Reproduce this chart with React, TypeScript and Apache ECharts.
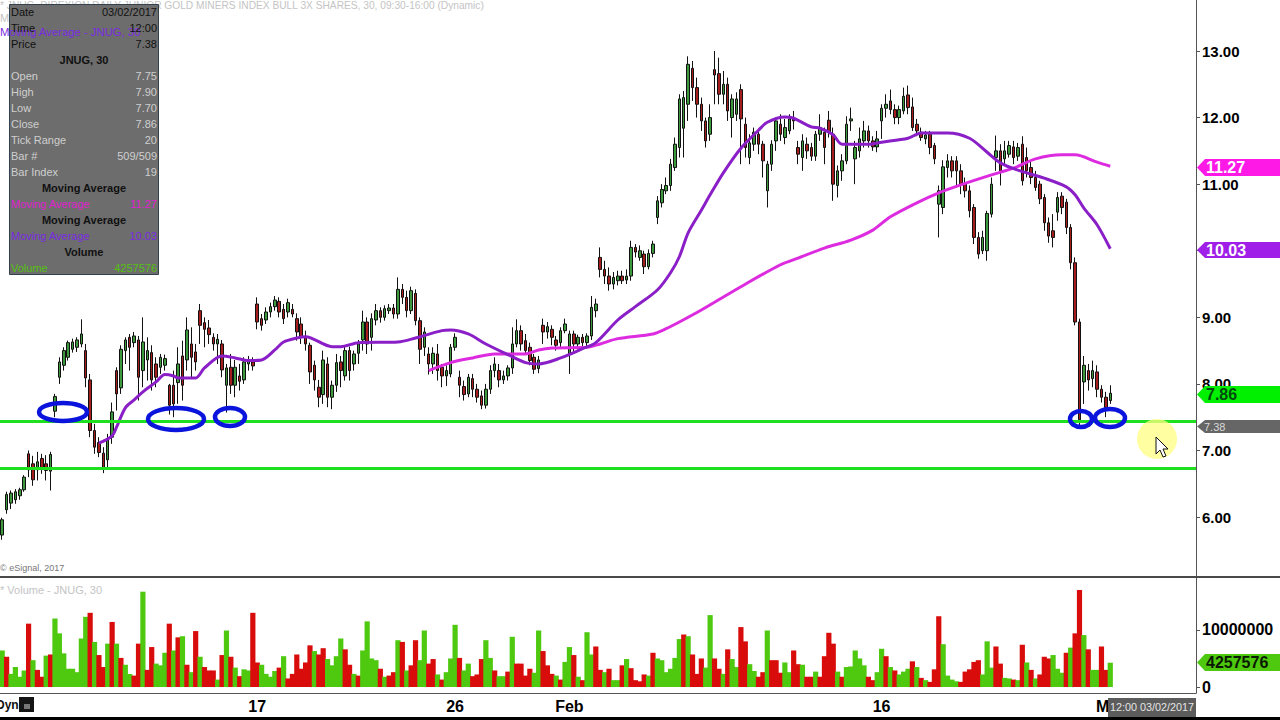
/**
 * JNUG 30 min chart: candles, two moving averages, volume pane.
 * One slot is roughly 4.4px wide, the picture shows two source bars per slot.
 */
import { useEffect, useRef } from 'react'
import * as echarts from 'echarts'

const FONT = '"Liberation Sans", Arial, sans-serif'
const SLOTS = 272

const xTicks: Record<number, string> = { 58: '17', 103: '26', 129: 'Feb', 200: '16', 252: 'Mar' }
const priceTicks = [6, 7, 8, 9, 10, 11, 12, 13]
const volumeTicks = [0, 10000000]
const supportLines = [7.44, 6.74]

const opens = [
  5.73,6.11,6.21,6.26,6.32,6.41,6.95,6.8,6.71,6.88,6.8,6.69,
  7.59,8.1,8.28,8.4,8.52,8.55,8.6,8.5,8.06,7.3,7.12,6.96,6.86,
  7.2,8.2,7.94,8.5,8.7,8.62,8.66,8.2,8.36,8.47,8.3,8.25,8.28,
  7.98,7.98,8.02,8.42,8.36,8.6,8.48,
  9.1,8.92,8.84,8.7,8.6,8.6,7.98,8.25,7.98,8.12,8.06,8.3,8.33,
  9.2,8.98,8.96,9.08,9.16,9.24,9.12,9.08,9.12,8.98,8.9,8.7,8.58,8.28,7.95,
  7.84,8.3,7.8,7.98,8.33,8.12,8.5,8.3,8.46,8.66,8.93,8.7,8.96,9.1,9.0,9.1,9.14,9.05,9.42,9.3,9.1,9.36,8.95,8.55,
  8.45,8.3,8.45,8.25,8.12,8.15,8.55,
  8.1,7.96,7.85,8.08,7.92,7.82,7.68,7.92,8.2,8.2,8.06,8.12,8.24,8.6,8.8,8.65,8.55,8.4,8.23,
  8.88,8.78,8.82,8.66,8.62,8.8,8.44,8.75,8.6,8.7,8.62,8.72,9.1,
  9.9,9.72,9.62,9.5,9.55,9.62,9.56,9.62,10.05,9.9,9.95,9.76,9.96,
  10.5,10.72,10.9,10.98,11.25,11.55,11.84,12.2,12.74,12.45,12.2,11.95,11.75,
  12.72,12.66,12.35,12.5,12.0,12.05,12.42,11.9,11.4,11.6,11.75,11.6,10.9,11.3,11.65,11.9,11.7,11.8,12.0,
  11.55,11.4,11.6,11.55,11.42,11.75,11.78,11.96,11.75,10.98,11.2,11.35,11.95,
  11.38,11.5,11.65,11.8,11.65,11.56,
  11.95,12.14,12.25,12.12,12.0,12.1,12.34,12.16,11.9,11.78,11.68,11.75,11.58,
  10.7,10.65,11.25,11.35,11.35,11.2,11.0,10.9,10.65,10.2,10.0,10.0,10.55,
  11.4,11.5,11.38,11.45,11.56,11.42,11.6,11.4,11.25,11.1,11.0,10.8,10.42,10.3,
  10.58,10.82,10.73,10.35,9.82,8.93,8.03,8.2,8.08,8.18,7.92,7.8,7.75,
]
const closes = [
  5.96,6.34,6.36,6.38,6.41,6.6,6.71,6.56,6.83,6.74,6.7,6.94,
  7.81,8.33,8.5,8.62,8.63,8.66,8.75,8.09,7.3,7.05,6.97,6.74,7.16,
  7.58,7.85,8.52,8.66,8.55,8.72,8.1,8.63,8.5,8.06,8.1,8.4,8.38,
  7.68,7.7,8.3,7.98,8.81,8.4,8.33,
  8.88,8.82,8.74,8.6,8.67,8.21,8.24,7.98,8.25,8.04,8.33,8.36,8.27,
  8.93,8.88,9.08,9.16,9.26,9.08,8.98,9.22,9.05,8.78,8.7,8.6,8.18,8.06,7.8,
  8.36,7.8,7.98,8.32,8.2,8.5,8.2,8.45,8.6,8.93,8.6,8.98,9.1,9.0,9.13,9.14,9.05,9.42,9.3,9.1,9.4,8.95,8.52,8.78,
  8.3,8.46,8.2,8.12,8.2,8.55,8.7,
  7.98,7.84,8.1,7.92,7.8,7.68,7.92,8.2,8.3,8.06,8.12,8.24,8.6,8.8,8.6,8.5,8.35,8.22,8.36,
  8.78,8.86,8.7,8.58,8.8,8.9,8.75,8.6,8.7,8.62,8.72,9.15,9.2,
  9.72,9.62,9.5,9.6,9.62,9.55,9.62,10.05,9.98,10.0,9.76,9.96,10.1,
  10.75,10.92,10.98,11.3,11.6,12.28,12.3,12.8,12.45,12.2,11.95,11.65,12.0,
  12.64,12.35,12.5,12.1,12.28,12.28,11.98,11.55,11.62,11.78,11.6,11.35,11.3,11.6,11.95,11.75,11.85,11.98,11.95,
  11.45,11.65,11.5,11.42,11.75,11.85,11.55,11.78,11.0,11.2,11.35,11.9,11.98,
  11.55,11.68,11.8,11.65,11.56,11.68,
  12.14,12.2,12.12,12.0,12.12,12.32,12.15,11.85,11.8,11.7,11.74,11.55,11.38,
  10.9,11.26,11.35,11.2,11.2,11.0,10.9,10.6,10.2,9.95,10.2,10.56,11.0,
  11.5,11.2,11.5,11.58,11.4,11.55,11.05,11.2,11.1,10.95,10.78,10.42,10.22,10.2,
  10.8,10.65,10.35,9.82,8.93,7.46,8.28,8.06,8.2,7.92,7.8,7.64,7.86,
]
const lows = [
  5.66,6.05,6.12,6.2,6.26,6.38,6.6,6.47,6.55,6.65,6.55,6.4,
  7.5,8.0,8.2,8.35,8.47,8.48,8.55,7.95,7.2,6.95,6.9,6.66,6.72,
  7.1,7.6,7.85,8.3,8.2,8.55,7.75,7.95,8.05,7.9,7.95,8.15,8.2,
  7.54,7.5,7.7,7.75,8.2,8.1,8.2,
  8.6,8.55,8.6,8.5,8.3,8.1,7.57,7.85,7.8,7.9,8.0,8.2,8.2,
  8.82,8.8,8.9,9.0,9.1,9.0,8.9,9.0,9.0,8.65,8.6,8.5,8.0,7.9,7.65,
  7.7,7.65,7.62,7.88,7.95,8.05,8.05,8.2,8.3,8.5,8.45,8.5,8.88,8.92,8.95,9.05,8.98,8.98,9.2,9.0,9.05,8.88,8.3,8.42,
  8.14,8.15,8.05,7.95,7.97,8.1,8.5,
  7.8,7.75,7.8,7.8,7.72,7.62,7.63,7.85,8.1,7.95,8.0,8.05,8.15,8.55,8.5,8.45,8.28,8.15,8.16,
  8.6,8.68,8.58,8.5,8.55,8.76,8.15,8.46,8.52,8.55,8.56,8.66,9.0,
  9.6,9.5,9.4,9.42,9.48,9.5,9.5,9.55,9.9,9.85,9.65,9.72,9.9,
  10.4,10.65,10.85,10.9,11.2,11.4,11.4,11.95,12.25,12.0,11.8,11.55,11.65,
  12.2,12.2,12.2,11.95,11.7,11.95,11.3,11.4,11.3,11.5,11.45,11.1,10.65,11.2,11.5,11.65,11.6,11.75,11.82,
  11.3,11.2,11.38,11.35,11.35,11.65,11.3,11.7,10.75,10.8,11.05,11.3,11.8,
  11.0,11.4,11.55,11.55,11.5,11.48,
  11.68,12.0,12.05,11.9,11.9,12.05,12.05,11.8,11.72,11.65,11.6,11.45,11.3,
  10.2,10.55,11.1,11.1,10.95,10.85,10.8,10.5,10.1,9.88,9.95,9.85,10.5,
  11.2,10.98,11.28,11.4,11.3,11.35,10.98,11.1,11.0,10.9,10.7,10.3,10.12,10.05,
  10.45,10.55,10.25,9.72,8.88,7.38,7.7,7.9,7.95,7.8,7.72,7.5,7.7,
]
const highs = [
  5.99,6.38,6.4,6.42,6.44,6.63,7.0,6.92,6.98,6.95,6.93,6.98,
  7.85,8.4,8.55,8.65,8.68,8.7,8.97,8.6,8.15,7.4,7.2,7.05,7.25,
  7.72,8.25,8.58,8.7,8.75,8.78,8.72,9.0,8.7,8.58,8.4,8.45,8.44,
  8.0,8.2,8.55,8.65,9.0,8.85,8.6,
  9.2,9.0,8.96,8.76,8.75,8.66,8.3,8.45,8.36,8.3,8.4,8.42,8.4,
  9.3,9.05,9.15,9.22,9.32,9.3,9.2,9.28,9.2,9.06,9.0,8.8,8.62,8.35,8.06,
  8.5,8.4,8.05,8.45,8.42,8.56,8.56,8.5,8.66,9.1,9.0,9.06,9.2,9.15,9.18,9.2,9.2,9.6,9.5,9.4,9.46,9.42,9.0,8.85,
  8.55,8.55,8.6,8.3,8.28,8.6,8.76,
  8.2,8.05,8.15,8.15,8.0,7.9,8.0,8.28,8.4,8.3,8.2,8.28,8.85,8.97,8.88,8.75,8.62,8.45,8.42,
  8.98,8.93,8.88,8.72,8.85,8.98,8.8,8.8,8.74,8.75,8.76,9.32,9.28,
  10.05,9.85,9.75,9.68,9.7,9.7,9.72,10.15,10.1,10.08,10.0,10.02,10.15,
  10.82,11.0,11.1,11.38,11.7,12.35,12.4,12.92,12.85,12.6,12.3,12.0,12.2,
  13.0,12.9,12.7,12.6,12.35,12.38,12.5,12.0,11.75,11.85,11.82,11.65,11.35,11.66,12.0,12.05,11.98,12.05,12.1,
  11.65,11.75,11.7,11.62,11.8,12.05,11.85,12.1,11.85,11.28,11.45,12.02,12.15,
  11.65,11.85,11.95,11.88,11.72,11.8,
  12.2,12.35,12.42,12.2,12.18,12.45,12.48,12.3,11.98,11.85,11.8,11.8,11.62,
  10.98,11.36,11.45,11.42,11.42,11.3,11.1,10.98,10.7,10.28,10.3,10.6,11.1,
  11.73,11.6,11.65,11.65,11.65,11.62,11.72,11.55,11.35,11.2,11.05,10.85,10.5,10.55,
  10.88,10.88,10.78,10.4,9.9,8.98,8.42,8.3,8.35,8.28,7.98,7.88,7.98,
]

// volume in millions
const volumesM = [
  6.4,5.3,2.3,3.5,1.8,2.9,11.1,4.7,3,1.8,
  5.5,5.7,12,9.4,5.9,3.2,3.2,2.6,8.5,12.3,
  13,7.9,5.6,3.5,7.6,11.4,7.6,5.1,3.9,2.3,
  2,7.6,16.7,3,7,4.1,3.8,6,11.1,6.4,
  8.7,8.9,3.9,2.6,9.8,5.3,3.5,2.9,2.9,1.3,
  5.6,9.9,5.3,3.4,1.9,3.1,2.9,13,4.3,3.9,
  2.3,1.8,2.8,3.4,5.4,1.5,2.3,5.7,3.2,4.3,
  7.3,6.3,5.7,6.8,4.9,3.8,5.4,8.5,6.6,3.9,
  2.3,2,6.4,11.5,5,4.7,3.2,1.8,2,2.6,
  8.2,7.9,2.9,3.8,8.2,4.7,9.9,4.1,4.9,2.2,
  1.3,2.6,5,10.9,5.1,2.9,4.1,1.9,2.2,4.9,
  8.2,5.1,2.9,1.9,1.9,2.7,8.8,4.1,4.1,2,
  3.2,2.5,9.9,6.3,3.8,2.3,2,1.3,4.4,7,
  5.6,1.8,1.2,9.6,5.7,7.1,3,2.6,3.2,1.2,
  1.2,3.8,4.9,3.3,1.2,1,2.2,2,6,5,
  4.7,2.6,3.2,5.1,8.4,9.2,8.9,5.7,2.3,5,
  3.4,12.6,5,3.2,2.3,6.6,4.9,3.5,10.5,8,
  4,2.8,1.8,2.6,9.9,4.7,4.7,2.5,4.3,2.6,
  6.4,4,3.9,1.8,1.8,2.7,1.8,5.4,9.5,7.6,
  2.7,1.8,3.5,3.6,6.4,5,3.8,1.8,1.2,2.6,
  6.7,5.4,3.5,2.9,2.2,2.7,3.2,4.5,3.5,1.6,
  1.2,0.9,3.1,12.4,7.5,2,1.3,1,0.9,2.7,
  3.1,4.4,4.7,2.2,8,3.4,7.1,4.1,1.6,1.5,
  1.3,1.2,7.4,4.3,3,1.5,2.2,5.3,5,5.6,
  3.2,2.5,6,6.9,9.4,17,9.1,6.6,3,3,
  7.1,3,4.26,
]
const volumeSides =
  'grggggrgrr' + 'grgggggggg' + 'rgrrgrgrgg' + 'rrgrrgggrg' + 'rgrgrgrrrg' +
  'rgrgrggrrg' + 'gggrgrrrrr' + 'rgrrggggrr' + 'grggggrgrr' + 'grgrrggrrg' +
  'rgggrggrrr' + 'ggrggrgrrr' + 'rggrrrgrgg' + 'rgrggrrgrg' + 'grgrrrrgrg' +
  'gggggrgrrr' + 'ggrrgrggrr' + 'ggrrgrrrgg' + 'rrgrrgrrrr' + 'grgggggrrg' +
  'grgrgggrgr' + 'grrrggggrr' + 'rrrgggrrgg' + 'rgrgrgrrrg' + 'ggrgrrgrggrrg'

// moving averages as [slot, price], read at the bends of the curves
const slowMa: [number, number][] = [
  [97,8.2],[102,8.32],[107,8.39],[112,8.45],[119,8.45],[122,8.51],[125,8.54],[133,8.55],[136,8.6],[140,8.68],
  [148,8.75],[151,8.83],[154,8.93],[159,9.11],[168,9.46],[177,9.79],[181,9.89],[187,10.04],[193,10.16],[198,10.31],
  [202,10.51],[208,10.72],[213,10.87],[218,10.99],[225,11.14],[230,11.24],[235,11.38],[241,11.44],[244,11.44],[249,11.33],[252,11.27],
]
const fastMa: [number, number][] = [
  [22,7.11],[25,7.22],[26,7.35],[28,7.64],[30,7.76],[32,7.88],[35,8.03],[37,8.14],[39,8.12],[40,8.09],[44,8.09],
  [46,8.24],[50,8.42],[53,8.39],[56,8.35],[59,8.36],[62,8.51],[64,8.63],[67,8.69],[69,8.71],[75,8.56],[77,8.56],
  [81,8.62],[90,8.63],[94,8.69],[100,8.8],[102,8.81],[106,8.75],[110,8.6],[115,8.44],[119,8.32],[122,8.3],[127,8.39],
  [132,8.53],[135,8.62],[140,8.96],[144,9.16],[149,9.41],[152,9.67],[154,9.91],[156,10.27],[159,10.61],[161,10.84],
  [164,11.17],[168,11.54],[172,11.81],[174,11.93],[178,12.01],[180,11.99],[184,11.86],[186,11.84],[189,11.74],[191,11.6],
  [197,11.6],[200,11.63],[206,11.69],[209,11.77],[213,11.77],[215,11.77],[220,11.69],[224,11.48],[227,11.32],[231,11.21],
  [237,11.09],[242,10.96],[244,10.84],[246,10.64],[249,10.39],[252,10.03],
]

// info box rows: label, value, colour
const infoRows: [string, string, string][] = [
  ['Date', '03/02/2017', '#111'],
  ['Time', '12:00', '#111'],
  ['Price', '7.38', '#111'],
  ['Open', '7.75', '#cfcfcf'],
  ['High', '7.90', '#cfcfcf'],
  ['Low', '7.70', '#cfcfcf'],
  ['Close', '7.86', '#cfcfcf'],
  ['Tick Range', '20', '#cfcfcf'],
  ['Bar #', '509/509', '#cfcfcf'],
  ['Bar Index', '19', '#cfcfcf'],
]
const priceTags: [string, number, number, string, string][] = [
  ['11.27', 159, 176, '#ff19e6', '#fff'],
  ['10.03', 242, 258, '#a01fe8', '#fff'],
  ['7.86', 386, 403, '#00f000', '#034a10'],
  ['4257576', 654, 671, '#4ec90f', '#0a1a00'],
]
const rings: [number, number, number, number][] = [
  [63, 412, 24, 9], [176, 419, 28, 11], [230, 417, 15, 9], [1081, 419, 11, 8], [1110, 418, 15, 9],
]

function label(text: string, x: number, y: number, fill: string, font: string, align = 'left') {
  return {
    type: 'text', x, y, z: 60, silent: true,
    style: { text, fill, font: `${font} ${FONT}`, textAlign: align, textVerticalAlign: 'middle' },
  }
}

function tag(y0: number, y1: number, fill: string) {
  const mid = (y0 + y1) / 2
  return {
    type: 'polygon', z: 60, silent: true,
    shape: { points: [[1197, mid], [1205, y0], [1280, y0], [1280, y1], [1205, y1]] },
    style: { fill },
  }
}

function overlays() {
  const out: any[] = [
    label('* JNUG, DIREXION DAILY JUNIOR GOLD MINERS INDEX BULL 3X SHARES, 30, 09:30-16:00 (Dynamic)', 0, 5, '#c4c4c4', '10.2px'),
    label('Moving Average - JNUG, 30', 0, 18, '#c4c4c4', '11px'),
    { type: 'rect', z: 60, silent: true, shape: { x: 9.5, y: 4.5, width: 149, height: 270 }, style: { fill: 'rgba(104,104,104,0.97)', stroke: '#33424c', lineWidth: 1 } },
    label('Moving Average - JNUG, 30', 0, 32, '#7a2be0', '11.3px'),
  ]
  infoRows.forEach(([name, value, color], i) => {
    const y = i < 3 ? 12 + i * 16 : 76 + (i - 3) * 16
    out.push(label(name, 11, y, color, '11px'))
    out.push(label(value, 157, y, color, '11px', 'right'))
  })
  out.push(label('JNUG, 30', 84, 60, '#111', 'bold 11px', 'center'))
  out.push(label('Moving Average', 84, 188, '#111', 'bold 11px', 'center'))
  out.push(label('Moving Average', 11, 204, '#e020d0', '11px'))
  out.push(label('11.27', 157, 204, '#e020d0', '11px', 'right'))
  out.push(label('Moving Average', 84, 220, '#111', 'bold 11px', 'center'))
  out.push(label('Moving Average', 11, 236, '#7a2be0', '11px'))
  out.push(label('10.03', 157, 236, '#7a2be0', '11px', 'right'))
  out.push(label('Volume', 84, 252, '#111', 'bold 11px', 'center'))
  out.push(label('Volume', 11, 268, '#55c010', '11px'))
  out.push(label('4257576', 157, 268, '#55c010', '11px', 'right'))

  out.push(label('© eSignal, 2017', 0, 568, '#777', '9px'))
  out.push(label('* Volume - JNUG, 30', 0, 590, '#c4c4c4', '11px'))

  // separators
  out.push({ type: 'rect', z: 50, silent: true, shape: { x: 0, y: 576, width: 1280, height: 2 }, style: { fill: '#4a4a4a' } })
  out.push({ type: 'rect', z: 50, silent: true, shape: { x: 0, y: 717, width: 1280, height: 3 }, style: { fill: '#000' } })

  // hand drawn rings
  rings.forEach(([cx, cy, rx, ry]) => {
    out.push({ type: 'ellipse', z: 55, silent: true, shape: { cx, cy, rx, ry }, style: { fill: 'none', stroke: '#0a14dc', lineWidth: 4.5 } })
  })

  // price tags on the right edge
  priceTags.forEach(([text, y0, y1, fill, color]) => {
    out.push(tag(y0, y1, fill))
    out.push(label(text, 1206, (y0 + y1) / 2, color, 'bold 16px'))
  })
  out.push(tag(420, 433, '#666'))
  out.push(label('7.38', 1204, 426.5, '#d8d8d8', '11px'))

  // date box and bottom-left controls
  out.push({ type: 'rect', z: 60, silent: true, shape: { x: 1108, y: 698, width: 88, height: 19 }, style: { fill: '#5c5c5c' } })
  out.push(label('12:00 03/02/2017', 1110, 707, '#e4e4e4', '10.8px'))
  out.push(label('Dyn', -4, 705, '#111', 'bold 12px'))
  out.push({ type: 'rect', z: 60, silent: true, shape: { x: 19, y: 697, width: 15, height: 15 }, style: { fill: '#151515' } })
  out.push({ type: 'rect', z: 61, silent: true, shape: { x: 24, y: 704, width: 6, height: 5 }, style: { fill: '#777' } })

  // mouse pointer
  out.push({ type: 'circle', z: 62, silent: true, shape: { cx: 1157, cy: 439, r: 20 }, style: { fill: 'rgba(255,255,130,0.75)' } })
  out.push({
    type: 'polygon', z: 63, silent: true,
    shape: { points: [[1156, 437], [1156, 454], [1160, 450], [1163, 457], [1166, 456], [1163, 449], [1168, 449]] },
    style: { fill: '#fff', stroke: '#111', lineWidth: 1 },
  })
  return out
}

export default function App() {
  const containerRef = useRef<HTMLDivElement>(null)

  useEffect(() => {
    if (!containerRef.current) return
    const chart = echarts.init(containerRef.current, null, { renderer: 'svg' })

    const categories = Array.from({ length: SLOTS }, (_, i) => xTicks[i] ?? '')
    const candles = opens.map((o, i) => [o, closes[i], lows[i], highs[i]])
    const volumes = volumesM.map((v, i) => ({
      value: v * 1000000,
      itemStyle: { color: volumeSides[i] === 'g' ? '#4ec90f' : '#d90c0c' },
    }))
    const showTick = (index: number) => xTicks[index] !== undefined
    const axisText = { color: '#000', fontWeight: 'bold' as const, fontFamily: FONT, fontSize: 16 }

    chart.setOption({
      animation: false,
      backgroundColor: '#fff',
      textStyle: { fontFamily: FONT },
      grid: [
        { left: 0, top: 0, width: 1196, height: 577 },
        { left: 0, top: 578, width: 1196, height: 115 },
      ],
      xAxis: [
        { type: 'category', gridIndex: 0, data: categories, show: false },
        {
          type: 'category',
          gridIndex: 1,
          data: categories,
          axisLine: { onZero: false, lineStyle: { color: '#555', width: 1 } },
          axisTick: { interval: showTick, alignWithLabel: true, length: 3, lineStyle: { color: '#555' } },
          axisLabel: { ...axisText, interval: showTick, margin: 5, hideOverlap: false },
          splitLine: { show: false },
        },
      ],
      yAxis: [
        {
          type: 'value',
          gridIndex: 0,
          position: 'right',
          min: 5.1,
          max: 13.766,
          axisLine: { show: true, lineStyle: { color: '#555', width: 1 } },
          axisTick: { show: true, length: 4, customValues: priceTicks, lineStyle: { color: '#555' } },
          axisLabel: { ...axisText, fontSize: 15, margin: 6, padding: [0, 0, 1, 0], customValues: priceTicks, formatter: (v: number) => v.toFixed(2) },
          splitLine: { show: false },
        },
        {
          type: 'value',
          gridIndex: 1,
          position: 'right',
          min: -1050000,
          max: 19100000,
          axisLine: { show: true, lineStyle: { color: '#555', width: 1 } },
          axisTick: { show: true, length: 4, customValues: volumeTicks, lineStyle: { color: '#555' } },
          axisLabel: { ...axisText, margin: 6, padding: [0, 0, 2, 0], customValues: volumeTicks, formatter: (v: number) => String(v) },
          splitLine: { show: false },
        },
      ],
      series: [
        {
          type: 'candlestick',
          xAxisIndex: 0,
          yAxisIndex: 0,
          data: candles,
          barWidth: 3,
          itemStyle: { color: '#3c9a3c', color0: '#a51d1d', borderColor: '#111', borderColor0: '#111', borderWidth: 1 },
          markLine: {
            silent: true,
            symbol: 'none',
            label: { show: false },
            lineStyle: { color: '#1fe01f', width: 3, type: 'solid' },
            data: supportLines.map((v) => ({ yAxis: v })),
          },
        },
        {
          type: 'line',
          xAxisIndex: 0,
          yAxisIndex: 0,
          data: slowMa,
          smooth: 0.3,
          symbol: 'none',
          lineStyle: { color: '#dd2be0', width: 3 },
        },
        {
          type: 'line',
          xAxisIndex: 0,
          yAxisIndex: 0,
          data: fastMa,
          smooth: 0.3,
          symbol: 'none',
          lineStyle: { color: '#8a1fc8', width: 3 },
        },
        {
          type: 'bar',
          xAxisIndex: 1,
          yAxisIndex: 1,
          data: volumes,
          barWidth: 5.2,
        },
      ],
      graphic: overlays(),
    })

    return () => chart.dispose()
  }, [])

  return (
    <div
      ref={containerRef}
      style={{ position: 'fixed', left: 0, top: 0, width: 1280, height: 720 }}
    />
  )
}
